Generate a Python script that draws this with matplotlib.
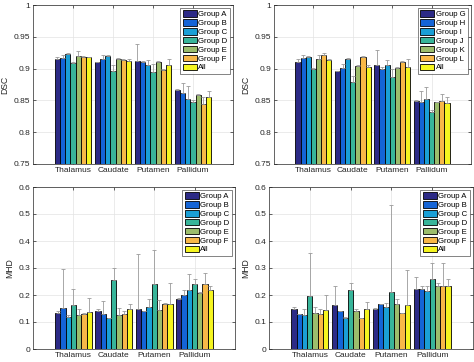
"""Grouped bar charts of DSC / MHD per structure (2x2 panels), MATLAB-ish look.
Writes out.png.
"""
import numpy as np
import matplotlib
matplotlib.use("Agg")
import matplotlib.pyplot as plt

structures = ["Thalamus", "Caudate", "Putamen", "Pallidum"]
groups_left = ["Group A", "Group B", "Group C", "Group D", "Group E", "Group F", "All"]
groups_right_top = ["Group G", "Group H", "Group I", "Group J", "Group K", "Group L", "All"]
colors = ["#2c2a86", "#1464d6", "#1a9fd6", "#38b59a", "#9cbd6c", "#f8b848", "#f5f51f"]

# rows = groups, cols = structures
dsc_tl = [[0.915, 0.910, 0.912, 0.867],
          [0.917, 0.915, 0.910, 0.862],
          [0.923, 0.920, 0.905, 0.852],
          [0.909, 0.896, 0.894, 0.848],
          [0.920, 0.915, 0.911, 0.858],
          [0.919, 0.914, 0.898, 0.844],
          [0.918, 0.912, 0.905, 0.856]]
dsc_tl_err = [[0.003, 0.001, 0.026, 0.001],
              [0.004, 0.006, 0.002, 0.016],
              [0.001, 0.001, 0.008, 0.020],
              [0.001, 0.010, 0.014, 0.003],
              [0.007, 0.001, 0.001, 0.002],
              [0.001, 0.001, 0.002, 0.012],
              [0.001, 0.003, 0.010, 0.008]]

dsc_tr = [[0.911, 0.896, 0.906, 0.849],
          [0.916, 0.901, 0.900, 0.847],
          [0.919, 0.915, 0.905, 0.852],
          [0.900, 0.879, 0.887, 0.832],
          [0.915, 0.904, 0.901, 0.847],
          [0.922, 0.919, 0.911, 0.849],
          [0.914, 0.903, 0.902, 0.846]]
dsc_tr_err = [[0.004, 0.001, 0.024, 0.001],
              [0.005, 0.006, 0.002, 0.018],
              [0.001, 0.001, 0.009, 0.019],
              [0.001, 0.010, 0.013, 0.003],
              [0.006, 0.002, 0.001, 0.001],
              [0.002, 0.001, 0.001, 0.011],
              [0.001, 0.002, 0.013, 0.009]]

mhd_bl = [[0.133, 0.140, 0.150, 0.185],
          [0.152, 0.130, 0.140, 0.200],
          [0.117, 0.115, 0.155, 0.220],
          [0.162, 0.257, 0.242, 0.242],
          [0.126, 0.125, 0.143, 0.208],
          [0.128, 0.130, 0.168, 0.240],
          [0.137, 0.150, 0.166, 0.217]]
mhd_bl_err = [[0.007, 0.008, 0.202, 0.005],
              [0.145, 0.047, 0.002, 0.018],
              [0.008, 0.001, 0.032, 0.058],
              [0.060, 0.043, 0.126, 0.016],
              [0.022, 0.027, 0.037, 0.002],
              [0.007, 0.010, 0.002, 0.040],
              [0.053, 0.016, 0.079, 0.018]]

mhd_br = [[0.147, 0.162, 0.148, 0.223],
          [0.128, 0.140, 0.165, 0.222],
          [0.125, 0.115, 0.155, 0.215],
          [0.198, 0.219, 0.210, 0.258],
          [0.134, 0.140, 0.165, 0.235],
          [0.128, 0.113, 0.133, 0.232],
          [0.143, 0.148, 0.163, 0.232]]
mhd_br_err = [[0.008, 0.071, 0.004, 0.042],
              [0.002, 0.001, 0.001, 0.013],
              [0.023, 0.003, 0.015, 0.020],
              [0.157, 0.026, 0.325, 0.062],
              [0.021, 0.008, 0.020, 0.010],
              [0.022, 0.002, 0.002, 0.086],
              [0.057, 0.027, 0.129, 0.028]]

plt.rcParams["font.family"] = ["Liberation Sans", "DejaVu Sans"]
fig = plt.figure(figsize=(4.74, 3.62), dpi=100)
W, H = 474, 362


def px_axes(l, t, r, b):
    return fig.add_axes([l / W, 1 - b / H, (r - l) / W, (b - t) / H])


def panel(ax, vals, errs, labels, ylabel, ylim, yticks, yticklabels):
    vals = np.array(vals); errs = np.array(errs)
    n = len(labels)
    bw = 0.13
    x = np.arange(1, len(structures) + 1)
    for i in range(n):
        xi = x + (i - (n - 1) / 2) * bw
        ax.bar(xi, vals[i], bw, color=colors[i], edgecolor="black", linewidth=0.6,
               label=labels[i], zorder=3)
        ax.errorbar(xi, vals[i], yerr=[np.zeros(len(x)), errs[i]], fmt="none",
                    ecolor="#9a9a9a", elinewidth=0.6, capsize=1.2, capthick=0.6, zorder=4)
    ax.set_xlim(0, 5)
    ax.set_ylim(*ylim)
    ax.set_xticks(x)
    ax.set_xticklabels(structures)
    ax.set_yticks(yticks)
    ax.set_yticklabels(yticklabels)
    ax.set_ylabel(ylabel, fontsize=6.2, color="#262626", labelpad=3)
    ax.grid(True, color="#e3e3e3", linewidth=0.5, zorder=0)
    ax.set_axisbelow(True)
    ax.tick_params(labelsize=6, colors="#262626", direction="in", length=2,
                   width=0.5, pad=2, top=True, right=True)
    for s in ax.spines.values():
        s.set_color("#262626"); s.set_linewidth(0.5)
    leg = ax.legend(loc="upper right", fontsize=5.6, frameon=True, fancybox=False,
                    edgecolor="#262626", handlelength=1.8, handleheight=0.9,
                    labelspacing=0.12, borderpad=0.3, handletextpad=0.2,
                    borderaxespad=0.4)
    leg.get_frame().set_linewidth(0.5)


dsc_ticks = [0.75, 0.8, 0.85, 0.9, 0.95, 1]
dsc_lbls = ["0.75", "0.8", "0.85", "0.9", "0.95", "1"]
mhd_ticks = [0, 0.1, 0.2, 0.3, 0.4, 0.5, 0.6]
mhd_lbls = ["0", "0.1", "0.2", "0.3", "0.4", "0.5", "0.6"]

panel(px_axes(33, 5, 233, 164), dsc_tl, dsc_tl_err, groups_left, "DSC",
      (0.75, 1), dsc_ticks, dsc_lbls)
panel(px_axes(274, 5, 471, 164), dsc_tr, dsc_tr_err, groups_right_top, "DSC",
      (0.75, 1), dsc_ticks, dsc_lbls)
panel(px_axes(33, 187, 235, 349), mhd_bl, mhd_bl_err, groups_left, "MHD",
      (0, 0.6), mhd_ticks, mhd_lbls)
panel(px_axes(269, 187, 473, 349), mhd_br, mhd_br_err, groups_left, "MHD",
      (0, 0.6), mhd_ticks, mhd_lbls)

fig.savefig("out.png", dpi=100)
